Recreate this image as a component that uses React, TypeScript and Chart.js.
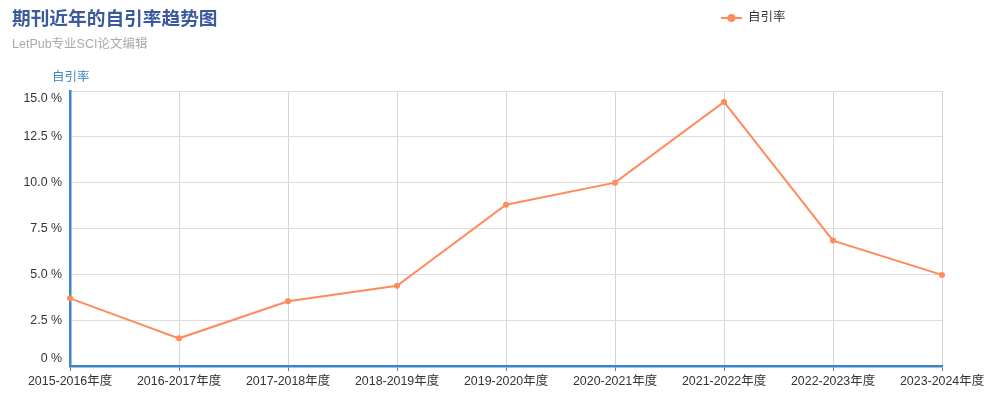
import React, { useEffect, useRef } from "react";
import { Chart, registerables } from "chart.js";

Chart.register(...registerables);

const categories = [
  "2015-2016年度",
  "2016-2017年度",
  "2017-2018年度",
  "2018-2019年度",
  "2019-2020年度",
  "2020-2021年度",
  "2021-2022年度",
  "2022-2023年度",
  "2023-2024年度",
];
const selfCitationRate = [3.69, 1.51, 3.53, 4.38, 8.8, 10.0, 14.4, 6.84, 4.97];
const seriesName = "自引率";
const titleText = "期刊近年的自引率趋势图";
const subtitleText = "LetPub专业SCI论文编辑";
const yAxisName = "自引率";

const FONT = "'Liberation Sans', 'Noto Sans CJK SC', sans-serif";
const LINE_COLOR = "#FF8A5B";
const AXIS_COLOR = "#3D86C6";

const overlayPlugin = {
  id: "overlayText",
  afterDraw(chart: any) {
    const ctx = chart.ctx as CanvasRenderingContext2D;
    ctx.save();
    ctx.textBaseline = "middle";
    ctx.textAlign = "left";
    // title
    ctx.fillStyle = "#3B5A9E";
    ctx.font = `bold 18.7px ${FONT}`;
    ctx.fillText(titleText, 12, 20);
    // subtitle
    ctx.fillStyle = "#AAAAAA";
    ctx.font = `12.5px ${FONT}`;
    ctx.fillText(subtitleText, 12, 45);
    // axis name
    ctx.fillStyle = AXIS_COLOR;
    ctx.font = `12.5px ${FONT}`;
    ctx.fillText(yAxisName, 52, 78);
    // legend
    ctx.strokeStyle = LINE_COLOR;
    ctx.lineWidth = 2;
    ctx.beginPath();
    ctx.moveTo(721, 18);
    ctx.lineTo(742, 18);
    ctx.stroke();
    ctx.fillStyle = LINE_COLOR;
    ctx.beginPath();
    ctx.arc(731.5, 18, 4, 0, Math.PI * 2);
    ctx.fill();
    ctx.fillStyle = "#333333";
    ctx.font = `12.5px ${FONT}`;
    ctx.fillText(seriesName, 748, 18);
    ctx.restore();
  },
};

export default function App() {
  const ref = useRef<HTMLCanvasElement | null>(null);
  useEffect(() => {
    if (!ref.current) return;
    const chart = new Chart(ref.current, {
      type: "line",
      data: {
        labels: categories,
        datasets: [
          {
            label: seriesName,
            data: selfCitationRate,
            borderColor: LINE_COLOR,
            backgroundColor: LINE_COLOR,
            borderWidth: 2,
            pointRadius: 3,
            pointHoverRadius: 3,
            pointBackgroundColor: LINE_COLOR,
            pointBorderWidth: 0,
            tension: 0,
            fill: false,
            clip: 10,
          } as any,
        ],
      },
      options: {
        responsive: false,
        animation: false,
        maintainAspectRatio: false,
        layout: { padding: { top: 91, right: 49, left: 0, bottom: 0 } },
        plugins: {
          legend: { display: false },
          title: { display: false },
          tooltip: { enabled: false },
        },
        scales: {
          x: {
            type: "category",
            offset: false,
            afterFit: (s: any) => {
              s.height = 35;
            },
            grid: {
              display: true,
              offset: false,
              color: "#D4D4D4",
              lineWidth: 1,
              drawTicks: true,
              tickLength: 5,
              tickColor: AXIS_COLOR,
            },
            border: { display: true, color: AXIS_COLOR, width: 2.5 },
            ticks: {
              color: "#333333",
              font: { family: FONT, size: 12.4 },
              padding: 3,
              maxRotation: 0,
              autoSkip: false,
            },
          },
          y: {
            min: 0,
            max: 15,
            afterFit: (s: any) => {
              s.width = 70;
            },
            grid: {
              color: "#DDDDDD",
              lineWidth: 1,
              drawTicks: false,
            },
            border: { display: true, color: AXIS_COLOR, width: 2.5 },
            ticks: {
              stepSize: 2.5,
              padding: 8,
              color: "#333333",
              font: { family: FONT, size: 12.4 },
              callback: (v: any) => {
                const n = Number(v);
                if (n === 0) return ["0 %", ""];
                if (n === 15) return ["", "15.0 %"];
                return n.toFixed(1) + " %";
              },
            },
          },
        },
      },
      plugins: [overlayPlugin],
    });
    return () => chart.destroy();
  }, []);
  return (
    <div style={{ position: "fixed", left: 0, top: 0, width: 991, height: 401, background: "#fff" }}>
      <canvas ref={ref} width={991} height={401} style={{ width: 991, height: 401, display: "block" }} />
    </div>
  );
}
